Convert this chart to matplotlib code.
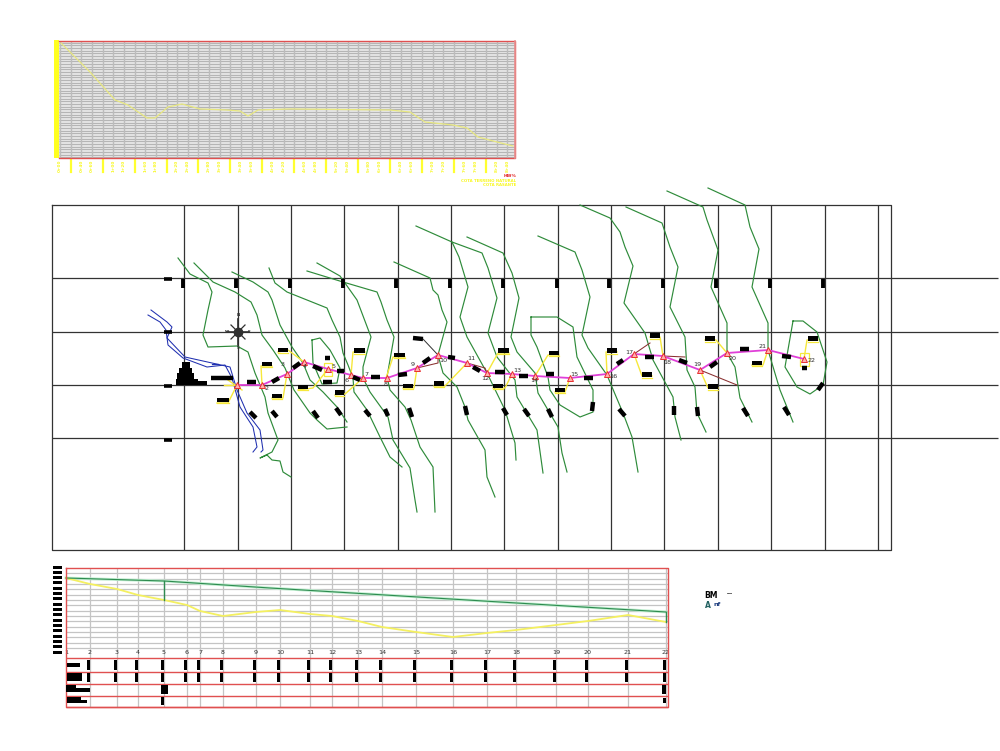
import numpy as np
import matplotlib
matplotlib.use('Agg')
import matplotlib.pyplot as plt
from matplotlib.patches import Rectangle

# top profile
top_curve_x = [61, 90, 115, 128, 147, 155, 168, 182, 200, 227, 240, 248, 258, 290, 390, 410, 425, 453, 467, 478, 497, 513]
top_curve_y = [43, 72, 100, 105, 118, 118, 107, 104, 109, 110, 111, 116, 110, 109, 110, 112, 122, 125, 128, 137, 142, 146]
top_tick_labels = ['%d+%02d' % (i // 5, (i % 5) * 20) for i in range(43)]

# plan sheet grid
plan_vlines = [184, 238, 291, 344, 398, 451, 504, 558, 611, 664, 718, 771, 825, 878]
plan_hlines = [278, 332, 385, 438]
grid_marks_x = [183, 236, 290, 343, 396, 450, 503, 557, 609, 663, 716, 770, 823]
grid_marks_y = [279, 332, 386, 440]

# plan route
route_x = [237, 262, 287, 304, 328, 351, 363, 387, 417, 438, 467, 487, 512, 535, 570, 607, 634, 663, 700, 727, 768, 804]
route_y = [385, 385, 374, 362, 369, 375, 378, 378, 368, 355, 363, 373, 374, 376, 378, 374, 354, 356, 370, 353, 350, 359]
route_label_x = [267, 283, 305, 333, 347, 366, 386, 413, 443, 471, 485, 517, 534, 574, 613, 629, 667, 697, 733, 763, 812]
route_label_y = [389, 364, 367, 367, 380, 374, 384, 365, 361, 359, 379, 370, 381, 375, 377, 353, 362, 365, 358, 347, 361]
route_labels = [str(i) for i in range(2, 23)]

contours = [
    [(178, 258), (190, 274), (208, 283), (212, 292), (208, 310), (203, 335), (208, 347), (237, 346), (248, 352), (255, 373), (265, 397), (268, 413), (278, 440), (272, 452), (260, 458), (267, 455), (272, 460), (280, 461), (283, 472), (291, 477)],
    [(194, 263), (213, 282), (235, 292), (251, 302), (257, 315), (262, 335), (273, 350), (285, 368), (294, 390), (310, 413), (317, 420), (327, 429), (347, 427)],
    [(232, 272), (253, 282), (268, 292), (272, 300), (280, 325), (292, 347), (303, 363), (310, 380), (323, 392), (337, 407), (347, 422)],
    [(269, 268), (275, 283), (287, 292), (327, 308), (332, 320), (340, 337), (343, 353), (348, 365), (353, 378), (354, 392), (367, 410), (380, 437), (390, 457), (402, 467)],
    [(317, 263), (340, 276), (357, 300), (371, 337), (363, 367), (363, 378), (370, 392), (388, 417), (393, 440), (410, 468), (415, 500), (417, 512)],
    [(307, 271), (343, 282), (377, 292), (381, 302), (387, 320), (394, 337), (387, 377), (390, 390), (405, 407), (411, 420), (420, 447), (433, 467), (435, 512)],
    [(394, 262), (430, 278), (433, 290), (438, 295), (442, 310), (447, 322), (438, 355), (443, 373), (457, 387), (465, 407), (468, 420), (485, 450), (487, 477), (495, 497)],
    [(416, 226), (452, 242), (459, 257), (468, 287), (460, 317), (467, 337), (487, 373), (505, 410), (515, 443), (516, 460)],
    [(452, 242), (482, 253), (488, 268), (497, 298), (488, 333), (497, 357), (515, 380), (517, 397), (537, 430), (543, 473)],
    [(467, 237), (503, 253), (512, 273), (519, 298), (511, 337), (517, 352), (535, 373), (538, 393), (558, 427), (562, 453), (567, 472)],
    [(531, 317), (557, 317), (573, 327), (577, 357), (593, 390), (593, 412), (580, 417), (560, 405), (550, 390), (548, 377), (537, 347), (531, 335), (531, 317)],
    [(538, 236), (575, 252), (582, 270), (590, 297), (582, 335), (588, 348), (607, 375), (612, 387), (623, 413), (632, 437), (638, 472)],
    [(580, 205), (610, 218), (620, 232), (625, 247), (633, 266), (624, 303), (645, 333), (653, 360), (673, 397), (675, 417), (681, 440)],
    [(626, 207), (662, 223), (670, 247), (678, 267), (670, 307), (685, 337), (687, 370), (695, 387), (697, 413), (706, 432)],
    [(667, 191), (703, 207), (707, 220), (718, 250), (711, 287), (727, 323), (727, 353), (735, 367), (740, 398), (752, 422)],
    [(708, 188), (745, 205), (750, 227), (759, 249), (752, 287), (768, 323), (768, 350), (780, 390), (793, 422)],
    [(793, 321), (803, 321), (817, 332), (827, 362), (823, 385), (810, 394), (797, 387), (785, 367), (793, 321)],
    [(312, 340), (320, 338), (330, 350), (340, 368), (337, 383), (322, 384), (313, 363), (312, 340)],
]

rivers = [
    [(151, 310), (167, 322), (172, 327), (167, 338), (185, 357), (212, 363), (230, 367), (237, 390), (247, 413), (260, 430), (263, 450), (261, 452)],
    [(148, 315), (160, 322), (166, 330), (168, 345), (183, 358), (207, 367), (225, 365), (232, 378), (240, 407), (253, 427), (257, 447), (253, 452)],
]

# black dashes: bearing labels along the route and the lower row
dashes = [
    (211, 378, 233, 378), (247, 382, 256, 382), (272, 382, 279, 378), (293, 368, 300, 363), (313, 366, 322, 370),
    (325, 358, 330, 358), (337, 371, 344, 371), (323, 382, 332, 382), (353, 377, 360, 380), (371, 377, 380, 377),
    (250, 412, 256, 418), (272, 411, 277, 417), (313, 411, 318, 418), (336, 408, 341, 415), (365, 410, 370, 416),
    (385, 409, 388, 416), (398, 375, 407, 374), (423, 363, 430, 358), (448, 357, 455, 358), (473, 367, 480, 371),
    (495, 372, 505, 372), (519, 376, 528, 376), (546, 374, 554, 374), (584, 378, 593, 378), (413, 338, 423, 339),
    (409, 408, 412, 417), (465, 406, 467, 415), (503, 408, 507, 415), (524, 409, 529, 416), (548, 409, 552, 417),
    (593, 402, 592, 411), (617, 364, 623, 360), (645, 357, 654, 357), (679, 360, 687, 363), (710, 367, 717, 362),
    (740, 349, 749, 349), (782, 356, 791, 357), (802, 368, 807, 368), (818, 390, 823, 383), (619, 409, 625, 416),
    (674, 406, 674, 415), (697, 407, 698, 416), (743, 408, 748, 416), (784, 407, 789, 415),
]

# label bar (x0, x1, y0, y1) and its yellow leader
label_bars = [
    (217, 229, 398, 402), (262, 272, 362, 366), (272, 282, 394, 398), (278, 288, 348, 352), (298, 308, 385, 389),
    (335, 344, 390, 395), (354, 365, 348, 353), (394, 405, 353, 357), (403, 413, 384, 388), (434, 444, 381, 386),
    (498, 509, 348, 353), (493, 503, 384, 388), (549, 559, 351, 355), (555, 565, 388, 392), (607, 617, 348, 353),
    (642, 652, 372, 377), (650, 660, 333, 338), (708, 718, 384, 389), (705, 715, 336, 341), (752, 762, 361, 365),
    (808, 818, 336, 341),
]
leaders = [
    [(217, 403), (228, 403), (237, 385)], [(272, 366), (261, 366), (262, 385)], [(272, 398), (283, 398), (287, 374)],
    [(278, 352), (288, 350), (304, 362)], [(298, 390), (313, 388), (328, 369)], [(335, 395), (345, 394), (363, 378)],
    [(365, 352), (353, 352), (351, 375)], [(405, 357), (393, 357), (386, 378)], [(403, 388), (414, 388), (417, 368)],
    [(434, 386), (445, 386), (467, 363)], [(509, 353), (498, 353), (487, 373)], [(493, 388), (505, 388), (512, 374)],
    [(559, 355), (548, 355), (535, 376)], [(555, 392), (565, 392), (570, 378)], [(617, 352), (606, 352), (607, 374)],
    [(652, 376), (642, 376), (634, 354)], [(650, 337), (660, 337), (663, 356)], [(718, 388), (708, 388), (700, 370)],
    [(705, 340), (716, 340), (727, 353)], [(752, 365), (763, 365), (768, 350)], [(818, 340), (807, 340), (804, 359)],
    [(224, 385), (240, 385)], [(228, 380), (242, 390)],
]
brown_lines = [
    [(417, 368), (438, 363), (438, 355)], [(467, 363), (485, 368), (487, 373)], [(634, 354), (650, 343)],
    [(663, 356), (685, 357)], [(700, 370), (737, 385)],
]
building_bars = [(182, 190, 362, 368), (179, 192, 368, 373), (177, 194, 373, 379), (176, 198, 379, 385), (198, 207, 381, 385)]

# bottom profile
station_x = [66, 90, 117, 138, 164, 187, 200, 223, 256, 280, 310, 332, 358, 382, 416, 453, 487, 516, 556, 588, 628, 666]
station_labels = [str(i) for i in range(1, 23)]
terrain_y = [578, 584, 589, 595, 600, 605, 611, 616, 612, 610, 614, 616, 621, 627, 632, 637, 633, 630, 625, 621, 615, 622]
grade_x = [66, 164, 270, 500, 666]
grade_y = [578, 581, 588, 602, 612]
table_lines = [658, 672, 684, 696, 707]
table_head_bars = [(67, 80, 663, 667), (67, 82, 673, 681), (66, 76, 685, 688), (66, 90, 688, 692), (67, 81, 697, 700), (67, 87, 700, 703)]
cell_bars = [(161, 168, 685, 694), (662, 666, 685, 694), (161, 164, 697, 705), (663, 666, 698, 703)]

fig = plt.figure(figsize=(10, 7.51), dpi=100)
ax = fig.add_axes([0, 0, 1, 1])
ax.set_xlim(0, 1000)
ax.set_ylim(751, 0)
ax.axis('off')


def bars(items, color='black', zorder=6):
    for x0, x1, y0, y1 in items:
        ax.add_patch(Rectangle((x0, y0), x1 - x0, y1 - y0, fc=color, ec='none', zorder=zorder))


# top panel
ax.add_patch(Rectangle((59, 41), 456, 117, fc='#e2e2e2', ec='none', zorder=0))
ax.hlines(np.arange(42.5, 158, 2.67), 59, 515, color='#b4b4b4', lw=0.7, zorder=1)
top_vx = 60 + 10.65 * np.arange(43)
ax.vlines(top_vx, 41, 158, color='#bcbcbc', lw=1.0, zorder=1)
ax.plot(top_curve_x, top_curve_y, color='#e8e880', lw=0.9, zorder=3)
ax.add_patch(Rectangle((54, 40), 5, 118, fc='#ffff20', ec='none', zorder=3))
for i, tx in enumerate(top_vx):
    if i % 3 == 1:
        ax.plot([tx, tx], [160, 172], color='#ffff30', lw=1.6, zorder=2)
    else:
        ax.text(tx, 160, top_tick_labels[i], rotation=90, fontsize=3.0, color='#f8f820', ha='center', va='top', weight='bold')
ax.plot([59, 515, 515, 59], [41, 41, 158, 158], color='#e05050', lw=1.0, zorder=4)
ax.plot([515, 515], [41, 158], color='#e89090', lw=1.2, zorder=4)
ax.text(516, 176, 'HW%', fontsize=3.2, color='#e02020', ha='right', va='center', weight='bold')
ax.text(516, 181, 'COTA TERRENO NATURAL', fontsize=2.8, color='#f8f820', ha='right', va='center', weight='bold')
ax.text(516, 185.5, 'COTA RASANTE', fontsize=2.8, color='#f8f820', ha='right', va='center', weight='bold')

# plan grid
ax.plot([52, 891, 891, 52, 52], [205, 205, 550, 550, 205], color='#333333', lw=0.9, zorder=2)
ax.vlines(plan_vlines, 205, 550, color='#333333', lw=0.9, zorder=2)
ax.hlines(plan_hlines, 52, 998, color='#333333', lw=0.9, zorder=2)
for gx in grid_marks_x:
    ax.plot([gx, gx], [279, 288], color='black', lw=2.8, solid_capstyle='butt', zorder=6)
for gy in grid_marks_y:
    ax.plot([164, 172], [gy, gy], color='black', lw=2.6, solid_capstyle='butt', zorder=6)

for c in contours:
    xs, ys = zip(*c)
    ax.plot(xs, ys, color='#2e8b3a', lw=0.85, zorder=3)
for r in rivers:
    xs, ys = zip(*r)
    ax.plot(xs, ys, color='#2030b0', lw=0.75, zorder=3)
ax.plot([212, 218], [363.5, 363.5], color='#2030b0', lw=0.9, zorder=3)

for line in leaders:
    xs, ys = zip(*line)
    ax.plot(xs, ys, color='#f6e83c', lw=1.0, zorder=4)
ax.add_patch(Rectangle((324, 363), 8, 13, fc='none', ec='#f6e83c', lw=0.9, zorder=4))
ax.add_patch(Rectangle((800, 353), 9, 13, fc='none', ec='#f6e83c', lw=0.9, zorder=4))
for line in brown_lines:
    xs, ys = zip(*line)
    ax.plot(xs, ys, color='#8a3030', lw=0.75, zorder=4)
ax.plot([423, 438], [339, 355], color='#303030', lw=0.7, zorder=4)

ax.plot(route_x, route_y, color='#e040d8', lw=1.3, zorder=5)
ax.plot(route_x, route_y, ls='none', marker='^', ms=5, mfc='#ffb0b0', mec='#e83030', mew=0.7, zorder=6)
for tx, ty, t in zip(route_label_x, route_label_y, route_labels):
    ax.text(tx, ty, t, fontsize=4.6, color='#303030', ha='center', va='center', zorder=7)

for x0, y0, x1, y1 in dashes:
    ax.plot([x0, x1], [y0, y1], color='black', lw=3.2, solid_capstyle='butt', zorder=6)
bars(label_bars)
for x0, x1, y0, y1 in label_bars:
    ax.plot([x0, x1], [y1 + 0.6, y1 + 0.6], color='#f6e83c', lw=0.9, zorder=6)
bars(building_bars)

# compass
ax.plot([238], [332], marker='o', ms=6, color='#303030', zorder=6)
ax.plot([238, 238], [319, 345], color='#303030', lw=1.2, zorder=6)
ax.plot([227, 249], [332, 332], color='#303030', lw=1.2, zorder=6)
ax.plot([231, 245], [325, 339], color='#303030', lw=0.9, zorder=6)
ax.plot([231, 245], [339, 325], color='#303030', lw=0.9, zorder=6)
for tx, ty, t in [(238, 315, 'N'), (238, 348, 'S'), (227, 332, 'W'), (249, 332, 'E')]:
    ax.text(tx, ty, t, fontsize=2.8, color='#303030', ha='center', va='center', weight='bold')

# bottom profile
ax.hlines(573.3 + 5.33 * np.arange(15), 66, 668, color='#c4c4c4', lw=0.9, zorder=1)
ax.vlines(station_x[1:], 568, 707, color='#c4c4c4', lw=0.9, zorder=1)
ax.plot(grade_x, grade_y, color='#bfeecf', lw=2.0, zorder=2)
ax.plot(grade_x, grade_y, color='#2e8b50', lw=0.8, zorder=3)
ax.plot([164, 164], [581, 600], color='#2e8b50', lw=1.0, zorder=3)
ax.plot([666, 666], [612, 622], color='#2e8b50', lw=1.0, zorder=3)
ax.plot(station_x, terrain_y, color='#f4f060', lw=1.3, zorder=2)
for sx, t in zip(station_x, station_labels):
    ax.text(sx, 653, t, fontsize=4.6, color='#303030', ha='center', va='center', zorder=4)
ax.plot([66, 668, 668, 66, 66], [568, 568, 707, 707, 568], color='#e05050', lw=1.0, zorder=4)
ax.hlines(table_lines, 66, 668, color='#e05050', lw=1.0, zorder=4)
for sx in station_x[1:]:
    ax.add_patch(Rectangle((sx - 3, 660), 3, 10, fc='black', ec='none', zorder=6))
    ax.add_patch(Rectangle((sx - 3, 673), 3, 9, fc='black', ec='none', zorder=6))
bars(cell_bars)
bars(table_head_bars)
for gy in 567 + 5.33 * np.arange(17):
    ax.add_patch(Rectangle((53, gy - 1.5), 9, 3, fc='black', ec='none', zorder=6))

# legend block
ax.text(704, 595, 'BM', fontsize=5.5, color='black', weight='bold', ha='left', va='center')
ax.text(727, 594, '---', fontsize=3.5, color='black', weight='bold', ha='left', va='center')
ax.text(705, 605, 'A', fontsize=5.5, color='#206060', weight='bold', ha='left', va='center')
ax.text(714, 605, 'nf', fontsize=4.5, color='#204080', weight='bold', ha='left', va='center')

fig.savefig('out.png', dpi=100)
